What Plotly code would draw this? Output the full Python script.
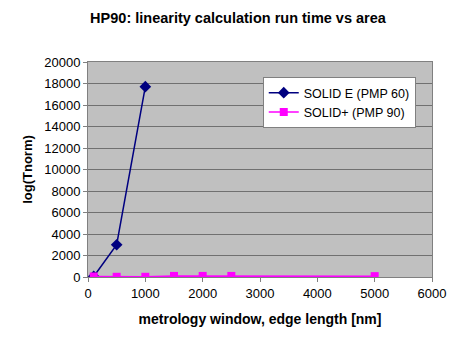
import plotly.graph_objects as go

solid_e_x = [100, 500, 1000]
solid_e_y = [50, 3000, 17700]
solid_p_x = [100, 500, 1000, 1500, 2000, 2500, 5000]
solid_p_y = [50, 20, 20, 100, 100, 100, 80]

y_ticks = list(range(0, 20001, 2000))
x_ticks = [0, 1000, 2000, 3000, 4000, 5000, 6000]

fig = go.Figure()
fig.add_trace(go.Scatter(x=solid_e_x, y=solid_e_y, mode="lines+markers",
                         name="SOLID E (PMP 60)",
                         line=dict(color="#000080", width=1.5),
                         marker=dict(symbol="diamond", size=9, color="#000080")))
fig.add_trace(go.Scatter(x=solid_p_x, y=solid_p_y, mode="lines+markers",
                         name="SOLID+ (PMP 90)",
                         line=dict(color="#FF00FF", width=1.5),
                         marker=dict(symbol="square", size=8, color="#FF00FF")))

fig.update_layout(
    width=474, height=345,
    margin=dict(l=88, r=42, t=62, b=68),
    paper_bgcolor="white",
    plot_bgcolor="#C0C0C0",
    font=dict(family="Liberation Sans, Arial, sans-serif", size=13, color="black"),
    title=dict(text="<b>HP90: linearity calculation run time vs area</b>",
               x=238/474, xanchor="center", xref="container", y=1 - 18/345, yanchor="middle",
               font=dict(size=14.5)),
    legend=dict(x=0.508, y=0.93, xanchor="left", yanchor="top",
                bgcolor="white", bordercolor="#808080", borderwidth=1,
                font=dict(size=12.5), tracegroupgap=2),
    showlegend=True,
)
fig.update_xaxes(range=[0, 6000], tickvals=x_ticks, tickformat="d",
                 showgrid=False, zeroline=False,
                 showline=True, linecolor="#808080", linewidth=1, mirror=True,
                 ticks="outside", ticklen=4, tickcolor="#808080",
                 title=dict(text="<b>metrology window, edge length [nm]</b>", font=dict(size=14), standoff=14))
fig.update_yaxes(range=[0, 20000], tickvals=y_ticks, tickformat="d",
                 showgrid=True, gridcolor="#707070", gridwidth=1, zeroline=False,
                 showline=True, linecolor="#808080", linewidth=1, mirror=True,
                 ticks="outside", ticklen=4, tickcolor="#808080",
                 title=dict(text="<b>log(Tnorm)</b>", font=dict(size=13), standoff=8))

fig.write_html("out.html")
